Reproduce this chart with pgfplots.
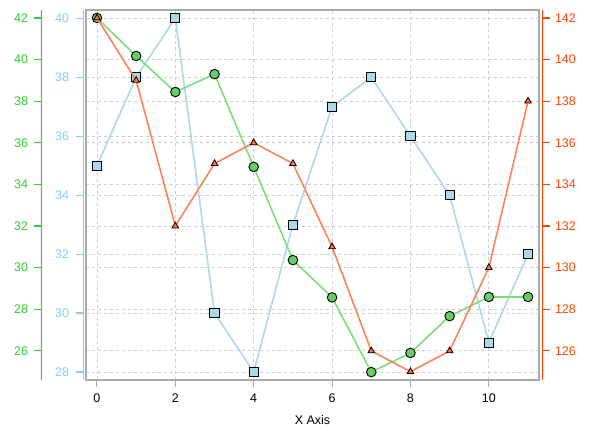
\documentclass[border=0pt]{standalone}
\usepackage{pgfplots}
\pgfplotsset{compat=1.18}
\usepackage{fontspec}
\setmainfont{Liberation Sans}

\definecolor{gline}{RGB}{125,220,125}
\definecolor{gfill}{RGB}{100,205,100}
\definecolor{gaxis}{RGB}{50,205,50}
\definecolor{bline}{RGB}{173,216,230}
\definecolor{baxis}{RGB}{135,206,235}
\definecolor{rline}{RGB}{255,130,90}
\definecolor{rfill}{RGB}{255,110,70}
\definecolor{raxis}{RGB}{255,69,0}
\definecolor{frame}{RGB}{170,170,170}
\definecolor{gridc}{RGB}{205,205,205}

\pgfplotstableread{
x g b r
0 42.00 35 142
1 40.17 38 139
2 38.44 40 132
3 39.30 30 135
4 34.84 28 136
5 30.36 33 135
6 28.57 37 131
7 24.98 38 126
8 25.90 36 125
9 27.67 34 126
10 28.59 29 130
11 28.59 32 138
}\data

\pgfplotsset{
  base/.style={
    scale only axis, width=453bp, height=370bp,
    xmin=-0.28, xmax=11.28,
    /pgf/number format/assume math mode=true,
    tick label style={font=\fontsize{12.5bp}{14bp}\selectfont},
    label style={font=\fontsize{12.5bp}{14bp}\selectfont},
    major tick length=6.5bp,
    tick align=outside,
    grid style={gridc, dash pattern=on 3bp off 3bp, line width=0.8bp},
  },
  gscale/.style={ymin=24.6, ymax=42.38, ytick={26,28,...,42}},
  bscale/.style={ymin=27.73, ymax=40.28, ytick={28,30,...,40}},
  rscale/.style={ymin=124.6, ymax=142.38, ytick={126,128,...,142}},
  % an axis that only shows one y scale, its spine drawn by hand
  yonly/.style={
    axis line style={draw=none}, xtick=\empty,
    ytick style={#1, line width=1.2bp},
    yticklabel style={#1},
  },
}

\begin{document}
\begin{tikzpicture}
% frame, x axis and grid on the green scale
\begin{axis}[base, gscale,
  axis line style={frame, line width=1.2bp},
  xtick={0,2,...,10}, xtick pos=bottom,
  xtick style={frame, line width=1bp},
  xticklabel style={yshift=-4bp},
  xmajorgrids, ymajorgrids,
  yticklabels={}, ytick style={draw=none},
  xlabel={X Axis}, xlabel style={yshift=-6bp},
]
\end{axis}
% green y axis
\begin{axis}[base, gscale, at={(-45bp,0)}, yonly=gaxis,
  ytick pos=left, yticklabel pos=left,
  yticklabel style={xshift=-3bp},
]
\draw[gaxis, line width=1.2bp] (rel axis cs:0,0) -- (rel axis cs:0,1);
\end{axis}
% blue y axis
\begin{axis}[base, bscale, at={(-3bp,0)}, yonly=baxis,
  ytick pos=left, yticklabel pos=left,
  yticklabel style={xshift=-4bp},
]
\draw[baxis, line width=1.2bp] (rel axis cs:0,0) -- (rel axis cs:0,1);
\end{axis}
% red y axis
\begin{axis}[base, rscale, at={(4bp,0)}, yonly=raxis,
  ytick pos=right, yticklabel pos=right,
  yticklabel style={xshift=2bp},
]
\draw[raxis, line width=1.2bp] (rel axis cs:1,0) -- (rel axis cs:1,1);
\end{axis}
% blue series and its grid
\begin{axis}[base, bscale,
  axis line style={draw=none},
  xtick=\empty, ymajorgrids,
  yticklabels={}, ytick style={draw=none},
]
\addplot[bline, line width=1.6bp, mark=square*,
  mark options={fill=bline, draw=black, line width=0.9bp}, mark size=4.6bp]
  table[x=x, y=b] {\data};
\end{axis}
% green series
\begin{axis}[base, gscale, hide axis]
\addplot[gline, line width=1.6bp, mark=*,
  mark options={fill=gfill, draw=black, line width=0.9bp}, mark size=4.8bp]
  table[x=x, y=g] {\data};
\end{axis}
% red series
\begin{axis}[base, rscale, hide axis]
\addplot[rline, line width=1.6bp, mark=triangle*,
  mark options={fill=rfill, draw=black, line width=0.8bp}, mark size=3.8bp]
  table[x=x, y=r] {\data};
\end{axis}
\pgfresetboundingbox
\path[use as bounding box] (-86bp,-51bp) rectangle (506bp,380bp);
\end{tikzpicture}
\end{document}
